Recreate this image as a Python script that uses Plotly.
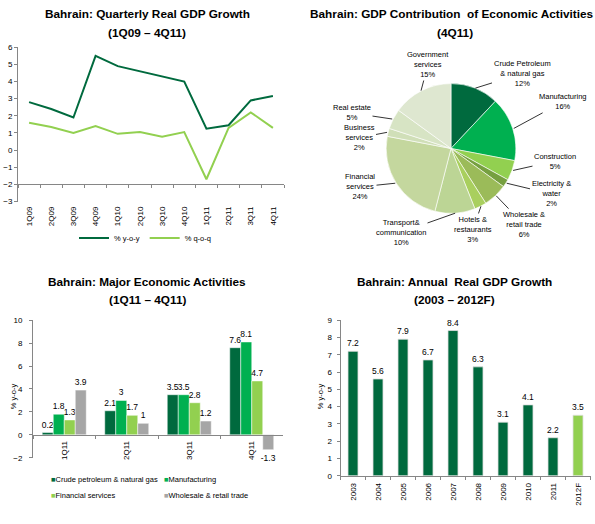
import math
import plotly.graph_objects as go

W, H = 595, 524
def px(x): return x / W
def py(y): return 1 - y / H

FONT = "Liberation Sans, Arial, sans-serif"
DARK = "#006A3E"; MID = "#00B050"; LIGHT = "#92D050"; GREY = "#A6A6A6"
AX = "#868686"

# ---------------- data ----------------
quarters = ["1Q09", "2Q09", "3Q09", "4Q09", "1Q10", "2Q10", "3Q10", "4Q10",
            "1Q11", "2Q11", "3Q11", "4Q11"]
yoy = [2.8, 2.4, 1.9, 5.5, 4.9, 4.6, 4.3, 4.0, 1.25, 1.45, 2.9, 3.15]
qoq = [1.6, 1.35, 1.0, 1.4, 0.95, 1.05, 0.78, 1.05, -1.7, 1.3, 2.2, 1.3]

sectors = ["Crude Petroleum & natural gas", "Manufacturing", "Construction",
           "Electricity & water", "Wholesale & retail trade", "Hotels & restaurants",
           "Transport & communication", "Financial services", "Business services",
           "Real estate", "Government services"]
sector_labels = ["Crude Petroleum<br>& natural gas", "Manufacturing", "Construction",
                 "Electricity &<br>water", "Wholesale &<br>retail trade",
                 "Hotels &<br>restaurants", "Transport&<br>communication",
                 "Financial<br>services", "Business<br>services", "Real estate",
                 "Government<br>services"]
shares = [12, 16, 5, 2, 6, 3, 10, 24, 2, 5, 15]
pie_colors = ["#006A3E", "#00B050", "#92D050", "#76A040", "#9BBB59", "#A9CF5E",
              "#BCD595", "#C4D79E", "#D0DFB8", "#D7E4C4", "#DEE7D0"]

q11 = ["1Q11", "2Q11", "3Q11", "4Q11"]
act_names = ["Crude petroleum & natural gas", "Manufacturing",
             "Financial services", "Wholesale & retail trade"]
crude = [0.2, 2.1, 3.5, 7.6]
manuf = [1.8, 3, 3.5, 8.1]
fin = [1.3, 1.7, 2.8, 4.7]
whole = [3.9, 1, 1.2, -1.3]

years = ["2003", "2004", "2005", "2006", "2007", "2008", "2009", "2010", "2011", "2012F"]
annual = [7.2, 5.6, 7.9, 6.7, 8.4, 6.3, 3.1, 4.1, 2.2, 3.5]

fig = go.Figure()

# ---------------- top-left: line chart ----------------
fig.add_trace(go.Scatter(x=quarters, y=yoy, mode="lines", name="% y-o-y",
                         line=dict(color=DARK, width=2), xaxis="x", yaxis="y"))
fig.add_trace(go.Scatter(x=quarters, y=qoq, mode="lines", name="% q-o-q",
                         line=dict(color=LIGHT, width=2), xaxis="x", yaxis="y"))

# ---------------- top-right: pie ----------------
cx, cy, R = 451, 147, 66
fig.add_trace(go.Pie(values=shares, labels=sectors, sort=False, direction="clockwise",
                     rotation=0, textinfo="none", hoverinfo="label+percent",
                     marker=dict(colors=pie_colors, line=dict(color="white", width=0.6)),
                     domain=dict(x=[px(cx - R), px(cx + R)], y=[py(cy + R), py(cy - R)]),
                     showlegend=False))

# label centres (pixel offsets from pie centre) - layout only
label_off = [(71, -76), (112, -47), (104, 13), (100, 46), (73, 77), (22, 82),
             (-50, 85), (-91, 39), (-92, -11), (-99, -36), (-23, -85)]
annotations = []
total = sum(shares)
cum = 0
for lab, v, (dx, dy) in zip(sector_labels, shares, label_off):
    mid = (cum + v / 2) / total * 2 * math.pi
    cum += v
    tx = cx + R * math.sin(mid)
    ty = cy - R * math.cos(mid)
    annotations.append(dict(
        x=px(tx), y=py(ty), xref="paper", yref="paper",
        ax=(cx + dx) - tx, ay=(cy + dy) - ty, axref="pixel", ayref="pixel",
        text=f"{lab}<br>{round(v / total * 100)}%", showarrow=True, arrowhead=0,
        arrowwidth=0.8, arrowcolor="#000", standoff=0,
        font=dict(family=FONT, size=7.5, color="#000")))

# ---------------- bottom-left: grouped bars ----------------
bw = 0.176
act_colors = [DARK, MID, LIGHT, GREY]
for i, (nm, vals, col) in enumerate(zip(act_names, [crude, manuf, fin, whole],
                                         act_colors)):
    fig.add_trace(go.Bar(x=q11, y=vals, name=nm, marker=dict(color=col,
                         line=dict(color="white", width=0.5)),
                         width=bw, offset=-2 * bw + i * bw,
                         text=[f"{v:g}" for v in vals], textposition="outside",
                         constraintext="none", cliponaxis=False,
                         textfont=dict(family=FONT, size=8.5, color="#000"),
                         xaxis="x2", yaxis="y2", showlegend=False))

# legend for the grouped bars (two columns, two rows)
leg_pos = [(49, 484), (162, 484), (49, 500), (162, 500)]
for nm, col, (lx, ly) in zip(act_names, act_colors, leg_pos):
    annotations.append(dict(x=px(lx), y=py(ly), xref="paper", yref="paper",
                            text=f"<span style='color:{col}'>■</span>{nm}",
                            showarrow=False, xanchor="left", yanchor="middle",
                            font=dict(family=FONT, size=7.5, color="#000")))

# ---------------- bottom-right: annual bars ----------------
fig.add_trace(go.Bar(x=years, y=annual, width=0.4,
                     marker=dict(color=[DARK] * 9 + [LIGHT],
                                 line=dict(color="#E0E0E0", width=0.8)),
                     text=[f"{v:g}" for v in annual], textposition="outside",
                     constraintext="none", cliponaxis=False,
                     textfont=dict(family=FONT, size=8.5, color="#000"),
                     xaxis="x3", yaxis="y3", showlegend=False))

tickf = dict(family=FONT, size=8, color="#000")
common = dict(showgrid=False, zeroline=False, showline=True, linecolor=AX,
              linewidth=1, ticks="outside", tickcolor=AX, ticklen=3, tickfont=tickf)

yd1 = [py(201), py(44)]
yd2 = [py(461.7), py(321.7)]
yd3 = [py(480), py(321.7)]

legfont = dict(family=FONT, size=7.5, color="#000")

fig.update_layout(
    width=W, height=H, margin=dict(l=0, r=0, t=0, b=0),
    paper_bgcolor="white", plot_bgcolor="white", barmode="overlay",
    xaxis=dict(domain=[px(18), px(284)], anchor="free",
               position=yd1[0] + (yd1[1] - yd1[0]) / 9, type="category",
               range=[-0.5, 11.5], tickson="boundaries", tickangle=-90,
               ticklabelstandoff=18, **common),
    yaxis=dict(domain=yd1, anchor="x", range=[-3, 6], dtick=1, **common),
    xaxis2=dict(domain=[px(33), px(283)], anchor="free",
                position=yd2[0] + (yd2[1] - yd2[0]) * 2 / 12, type="category",
                range=[-0.5, 3.5], tickson="boundaries", tickangle=-90,
                ticklabelstandoff=2, **common),
    yaxis2=dict(domain=yd2, anchor="x2", range=[-2, 10], dtick=2,
                ticklabelstandoff=5, **common),
    xaxis3=dict(domain=[px(340.5), px(590.5)], anchor="y3", type="category",
                range=[-0.5, 9.5], tickson="boundaries", tickangle=-90,
                ticklabelstandoff=3, **common),
    yaxis3=dict(domain=yd3, anchor="x3", range=[0, 9], dtick=1,
                ticklabelstandoff=3, **common),
    legend=dict(orientation="h", x=px(145), xanchor="center", y=py(238),
                yanchor="middle", font=legfont, bgcolor="rgba(0,0,0,0)"),
)

titles = [
    (147, 10, "Bahrain: Quarterly Real GDP Growth"), (147, 29, "(1Q09 – 4Q11)"),
    (452, 10, "Bahrain: GDP Contribution  of Economic Activities"), (455, 29, "(4Q11)"),
    (147, 283, "Bahrain: Major Economic Activities"), (147, 301, "(1Q11 – 4Q11)"),
    (455, 283, "Bahrain: Annual  Real GDP Growth"), (455, 301, "(2003 – 2012F)"),
]
for x, y, t in titles:
    annotations.append(dict(x=px(x), y=py(y), xref="paper", yref="paper",
                            text=f"<b>{t}</b>", showarrow=False, xanchor="center",
                            yanchor="middle",
                            font=dict(family=FONT, size=11.8, color="#000")))
for x, y in [(13, 399), (320, 399)]:
    annotations.append(dict(x=px(x), y=py(y), xref="paper", yref="paper",
                            text="% y-o-y", showarrow=False, textangle=-90,
                            xanchor="center", yanchor="middle",
                            font=dict(family=FONT, size=7.5, color="#000")))
fig.update_layout(annotations=annotations)

fig.write_html("out.html")
